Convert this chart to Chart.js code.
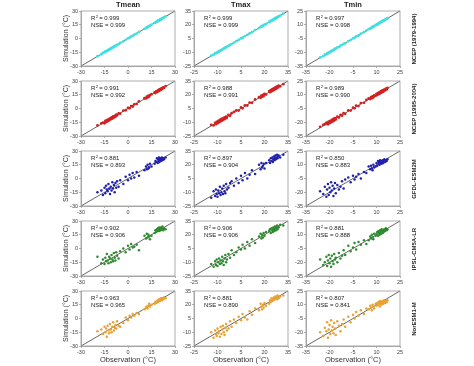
<!DOCTYPE html>
<html>
<head>
<meta charset="utf-8">
<script src="https://cdn.jsdelivr.net/npm/chart.js@4"></script>
<style>
    body { margin: 0; background: #fff; width: 474px; height: 366px; position: relative; overflow: hidden;
           font-family: Arial, "Liberation Sans", sans-serif; }
    canvas { position: absolute; }
    .lbl { position: absolute; white-space: nowrap; color: #222; line-height: 1; }
</style>
</head>
<body>
<script>
// observed values, one array per variable (shared by all rows)
const obsTmean = [-19.5,-17,-16,-15,-14.5,-14,-13.5,-13,-12.5,-12, -11.5,-11,-10.5,-10,-9.5,-9,-8.5,-8,-7.5,-7, -6,-5,
    -3,-1.5,0,1,2,3,4,5.5,7, 10.5,11.5,12,12.5,13,13.5,14,15,
    17,17.5,18,18.5,19,19.2,19.5,19.8,20,20.2, 20.5,20.8,21,21.3,21.6,22,22.5,23,24];
const obsTmax = [-14,-12.5,-11.5,-11,-10.5,-10,-9.5,-9,-8.5,-8, -7.5,-7,-6.5,-6,-5.5,-5,-4.5,-4,-3,-2, -1,0.5,
    2,3.5,5,6,7.5,9,10.5,12,14, 16.5,17.5,18,18.5,19,19.5,20,21,
    23,23.5,24,24.5,25,25.3,25.6,26,26.3,26.6, 27,27.3,27.6,28,28.3,28.7,29,30,32];
const obsTmin = [-26,-24,-23,-22,-21.5,-21,-20.5,-20,-19.5,-19, -18.5,-18,-17.5,-17,-16.5,-16,-15,-14,-13,-12, -11,-10,
    -8,-6.5,-5,-4,-3,-1.5,0,2,3.5, 5,6,6.5,7,7.5,8,8.5,9.5,
    10,10.5,11,11.3,11.6,12,12.3,12.6,13,13.3, 13.6,14,14.3,14.6,15,15.5,16,16.5,17];

// simulated values, per row
const simNcep1Tmean = [-19.3,-17.2,-15.8,-15.1,-14.2,-14.3,-13.4,-13.2,-12.3,-12.1, -11.6,-10.8,-10.6,-9.8,-9.7,-8.9,-8.6,-7.8,-7.6,-6.9, -6.2,-4.8,
    -3.1,-1.4,0.2,0.9,2.2,2.9,4.1,5.4,7.2, 10.6,11.3,12.2,12.4,13.1,13.6,13.9,15.2,
    17.1,17.4,18.2,18.4,19.1,19.3,19.4,19.9,20.1,20.1, 20.6,20.7,21.1,21.2,21.7,21.9,22.6,23.1,24.2];
const simNcep1Tmax = [-13.8,-12.7,-11.3,-11.2,-10.4,-10.1,-9.3,-9.2,-8.4,-8.1, -7.6,-6.9,-6.6,-5.8,-5.6,-4.9,-4.6,-3.8,-3.1,-1.9, -1.1,0.6,
    2.1,3.4,5.2,5.9,7.6,8.9,10.6,11.8,14.2, 16.4,17.6,17.9,18.6,19.1,19.4,20.1,20.9,
    23.1,23.4,24.2,24.4,25.1,25.2,25.7,25.9,26.4,26.5, 27.1,27.2,27.7,27.9,28.4,28.6,29.1,29.9,32.1];
const simNcep1Tmin = [-25.6,-24.3,-22.6,-22.4,-21.2,-21.3,-20.2,-20.4,-19.3,-19.4, -18.2,-18.3,-17.3,-17.4,-16.2,-16.3,-14.7,-14.4,-12.8,-12.2, -10.8,-10.3,
    -7.8,-6.7,-4.8,-4.2,-2.8,-1.7,0.2,1.8,3.6, 5.2,5.8,6.7,6.8,7.6,7.9,8.7,9.4,
    10.1,10.4,11.2,11.1,11.8,11.9,12.4,12.5,13.2,13.2, 13.8,13.9,14.4,14.5,15.1,15.4,16.2,16.4,17.1];

const simNcep2Tmean = [-18.5,-16.2,-15.3,-16.1,-13.6,-14.8,-12.7,-13.9,-11.8,-12.9, -10.7,-11.8,-9.8,-10.9,-8.7,-9.8,-8.0,-8.9,-6.8,-7.6, -5.4,-5.6,
    -2.4,-1.9,0.6,0.4,2.7,2.2,4.6,5.0,7.8, 11.2,11.0,12.8,12.1,13.7,13.0,14.6,15.6,
    17.6,16.9,18.7,18.0,19.6,18.7,20.1,19.3,20.6,19.8, 21.1,20.3,21.5,20.9,22.2,21.5,23.0,22.6,24.5];
const simNcep2Tmax = [-12.8,-13.5,-10.6,-12.1,-9.7,-11.0,-8.6,-10.1,-7.5,-9.0, -6.4,-8.1,-5.7,-7.0,-4.6,-6.1,-3.8,-5.0,-2.1,-2.9, -0.2,1.4,
    3.0,2.8,6.1,5.2,8.4,8.3,11.5,11.2,14.9, 17.4,16.6,19.1,17.7,19.9,18.6,21.0,20.2,
    24.0,22.8,25.0,23.7,26.0,24.6,26.5,25.3,27.2,25.9, 28.0,26.6,28.5,27.3,29.2,28.0,29.8,29.2,31.5];
const simNcep2Tmin = [-25.0,-22.8,-22.1,-20.7,-20.5,-22.3,-19.4,-21.0,-18.4,-20.1, -17.3,-19.2,-16.4,-18.1,-15.5,-17.0,-13.9,-14.8,-12.0,-12.9, -10.1,-10.8,
    -7.1,-7.3,-4.2,-4.8,-2.0,-2.4,0.9,1.2,4.3, 5.9,5.3,7.4,6.3,8.3,7.3,9.3,8.8,
    10.9,9.8,11.8,10.6,12.4,11.3,13.0,11.9,13.8,12.6, 14.4,13.3,15.0,13.9,15.7,14.8,16.7,15.8,17.5];

const simGfdlTmean = [-15,-13,-18,-10,-16,-8,-12,-14,-6,-11, -17,-9,-13,-4,-11,-7,-15,-5,-10,-3, -9,-2,
    -6,2,-2,4,0,6,1,7,3, 9,13,10,15,11,12,16,13,
    16,19,18,22,17,21,19,23,18,21, 20,22,19,21,23,20,22,21,23];
const simGfdlTmax = [-16,-9,-14,-7,-12,-15,-8,-11,-4,-13, -10,-6,-12,-3,-9,-11,-1,-7,-5,0, 2,-3,
    5,0,8,3,11,5,9,14,10, 20,15,22,17,19,21,16,22,
    25,22,27,24,28,23,26,29,25,27, 30,26,28,31,27,29,30,28,31];
const simGfdlTmin = [-19,-22,-14,-25,-17,-11,-23,-15,-20,-9, -18,-13,-24,-16,-10,-21,-12,-17,-14,-8, -16,-6,
    -4,-9,-2,-6,-3,0,-5,2,1, 8,5,9,6,4,10,7,8,
    12,9,14,11,13,10,15,12,14,11, 13,15,12,14,16,13,15,14,16];

const simIpslTmean = [-9,-16,-12,-17,-10,-14,-6,-13,-16,-9, -11,-15,-7,-12,-14,-5,-10,-13,-4,-8, -11,-3,
    0,-4,3,-1,5,1,2,4,-2, 14,11,16,12,15,13,10,14,
    17,20,18,21,19,22,20,23,19,22, 21,20,23,22,21,24,20,22,21];
const simIpslTmax = [-12,-15,-9,-13,-7,-14,-10,-6,-12,-8, -11,-4,-9,-13,-6,-2,-10,-7,-1,-5, 3,-2,
    1,6,4,9,5,12,8,15,11, 18,21,16,20,17,22,19,23,
    24,26,22,27,25,23,28,26,24,29, 27,25,28,30,26,29,28,31,30];
const simIpslTmin = [-17,-23,-20,-14,-24,-18,-12,-21,-16,-25, -13,-19,-22,-11,-17,-15,-20,-10,-16,-13, -7,-12,
    -2,-8,-4,1,-6,2,-1,4,0, 4,8,6,10,7,5,11,9,
    11,13,9,14,12,10,15,13,11,16, 14,12,15,13,16,14,17,15,16];

const simNorTmean = [-14,-12,-17,-9,-15,-11,-20,-8,-13,-16, -6,-12,-15,-9,-4,-13,-10,-7,-11,-3, -8,-9,
    -5,1,-2,3,1,5,3,6,5, 10,12,13,11,14,16,13,15,
    16,18,17,19,18,20,19,20,21,19, 21,20,22,21,20,22,21,23,22];
const simNorTmax = [-10,-16,-8,-12,-14,-6,-11,-9,-15,-4, -12,-7,-3,-10,-13,-5,-1,-8,-6,2, -4,4,
    0,7,3,10,6,4,13,9,16, 14,21,18,15,20,17,22,19,
    21,25,23,27,24,26,25,28,27,26, 29,27,28,26,30,28,27,29,30];
const simNorTmin = [-20,-24,-15,-19,-9,-26,-17,-12,-22,-7, -18,-14,-21,-10,-16,-23,-8,-13,-19,-11, -6,-14,
    -3,-9,-1,-5,2,-2,4,0,6, 5,9,7,4,10,8,6,11,
    9,12,10,13,11,8,14,12,10,13, 12,14,11,13,15,12,14,13,15];

// labels, axis ranges and statistics
const colTitles = ['Tmean', 'Tmax', 'Tmin'];
const rowLabels = ['NCEP (1979-1994)', 'NCEP (1995-2004)', 'GFDL-ESM2M', 'IPSL-CM5A-LR', 'NorESM1-M'];
const ticksTmean = [-30, -15, 0, 15, 30];
const ticksTmax = [-25, -10, 5, 20, 35];
const ticksTmin = [-35, -20, -5, 10, 25];
const r2Values = [
    ['0.999', '0.999', '0.997'],
    ['0.991', '0.988', '0.989'],
    ['0.881', '0.897', '0.850'],
    ['0.902', '0.906', '0.881'],
    ['0.963', '0.881', '0.807']
];
const nseValues = [
    ['0.999', '0.999', '0.998'],
    ['0.992', '0.991', '0.990'],
    ['0.893', '0.904', '0.883'],
    ['0.906', '0.906', '0.888'],
    ['0.965', '0.890', '0.841']
];

const obsByCol = [obsTmean, obsTmax, obsTmin];
const ticksByCol = [ticksTmean, ticksTmax, ticksTmin];
const simByRow = [
    [simNcep1Tmean, simNcep1Tmax, simNcep1Tmin],
    [simNcep2Tmean, simNcep2Tmax, simNcep2Tmin],
    [simGfdlTmean, simGfdlTmax, simGfdlTmin],
    [simIpslTmean, simIpslTmax, simIpslTmin],
    [simNorTmean, simNorTmax, simNorTmin]
];
const rowColors = ['#3fe0e0', '#d42020', '#2020b0', '#2e8a2e', '#eba032'];

// layout of plot areas (pixels)
const plotLefts = [81, 194, 306];
const plotTops = [11, 81, 151, 221, 291];
const plotW = 94, plotH = 55;
const padL = 22, padT = 4, padR = 6, padB = 12;

function addLabel(text, x, y, css, rotate) {
    const d = document.createElement('div');
    d.className = 'lbl';
    d.textContent = text;
    d.style.cssText += css;
    document.body.appendChild(d);
    const w = d.offsetWidth, h = d.offsetHeight;
    d.style.left = (x - w / 2) + 'px';
    d.style.top = (y - h / 2) + 'px';
    if (rotate) d.style.transform = 'rotate(-90deg)';
}

// 1:1 line, frame and statistics text
const framePlugin = {
    id: 'frame',
    beforeDatasetsDraw(chart, args, opts) {
        const { ctx, scales: { x, y } } = chart;
        ctx.save();
        ctx.strokeStyle = '#555';
        ctx.lineWidth = 0.9;
        ctx.beginPath();
        ctx.moveTo(x.getPixelForValue(opts.lo), y.getPixelForValue(opts.lo));
        ctx.lineTo(x.getPixelForValue(opts.hi), y.getPixelForValue(opts.hi));
        ctx.stroke();
        ctx.restore();
    },
    afterDatasetsDraw(chart, args, opts) {
        const { ctx, chartArea: a } = chart;
        ctx.save();
        ctx.strokeStyle = '#9a9a9a';
        ctx.lineWidth = 0.8;
        ctx.strokeRect(a.left, a.top, a.right - a.left, a.bottom - a.top);
        ctx.fillStyle = '#222';
        ctx.textBaseline = 'alphabetic';
        const x = a.left + 10;
        ctx.font = '6px Arial';
        ctx.fillText('R', x, a.top + 9);
        const rw = ctx.measureText('R').width;
        ctx.font = '4px Arial';
        ctx.fillText('2', x + rw + 0.3, a.top + 6.5);
        ctx.font = '6px Arial';
        ctx.fillText(' = ' + opts.r2, x + rw + 2.2, a.top + 9);
        ctx.fillText('NSE = ' + opts.nse, x, a.top + 16);
        ctx.restore();
    }
};

for (let r = 0; r < 5; r++) {
    for (let c = 0; c < 3; c++) {
        const cv = document.createElement('canvas');
        const cw = plotW + padL + padR, ch = plotH + padT + padB;
        cv.width = cw; cv.height = ch;
        cv.style.left = (plotLefts[c] - padL) + 'px';
        cv.style.top = (plotTops[r] - padT) + 'px';
        cv.style.width = cw + 'px'; cv.style.height = ch + 'px';
        document.body.appendChild(cv);

        const tv = ticksByCol[c];
        const lo = tv[0], hi = tv[tv.length - 1];
        const pts = obsByCol[c].map((o, i) => ({ x: o, y: simByRow[r][c][i] }));
        const axis = (isX) => ({
            type: 'linear',
            min: lo, max: hi,
            afterBuildTicks: s => { s.ticks = tv.map(v => ({ value: v })); },
            afterFit: s => {
                if (isX) s.height = padB; else s.width = padL;
                s.paddingLeft = s.paddingRight = s.paddingTop = s.paddingBottom = 0;
            },
            grid: { drawOnChartArea: false, drawTicks: true, tickLength: 2, color: '#9a9a9a', lineWidth: 0.8 },
            border: { display: true, color: '#9a9a9a', width: 0.8 },
            ticks: { font: { size: 5.5, family: 'Arial' }, color: '#444', padding: 1, autoSkip: false, maxRotation: 0 }
        });

        new Chart(cv, {
            type: 'scatter',
            data: {
                datasets: [{
                    data: pts,
                    backgroundColor: rowColors[r],
                    borderColor: rowColors[r],
                    borderWidth: 0,
                    pointRadius: r < 2 ? 1.4 : 1.25
                }]
            },
            options: {
                responsive: false,
                animation: false,
                devicePixelRatio: 1,
                layout: { padding: { top: padT, right: padR, left: 0, bottom: 0 } },
                plugins: {
                    legend: { display: false },
                    tooltip: { enabled: false },
                    frame: { r2: r2Values[r][c], nse: nseValues[r][c], lo: lo, hi: hi }
                },
                scales: { x: axis(true), y: axis(false) }
            },
            plugins: [framePlugin]
        });
    }
}

// titles and labels
colTitles.forEach((t, c) => addLabel(t, plotLefts[c] + plotW / 2, 5, 'font-weight:bold;font-size:7.5px;'));
rowLabels.forEach((t, r) => addLabel(t, 414, plotTops[r] + plotH / 2, 'font-weight:bold;font-size:6px;', true));
plotTops.forEach(t => addLabel('Simulation (\u00b0C)', 65, t + plotH / 2, 'font-size:7px;color:#333;', true));
plotLefts.forEach(l => addLabel('Observation (\u00b0C)', l + plotW / 2, 360, 'font-size:7.5px;color:#333;'));
</script>
</body>
</html>
